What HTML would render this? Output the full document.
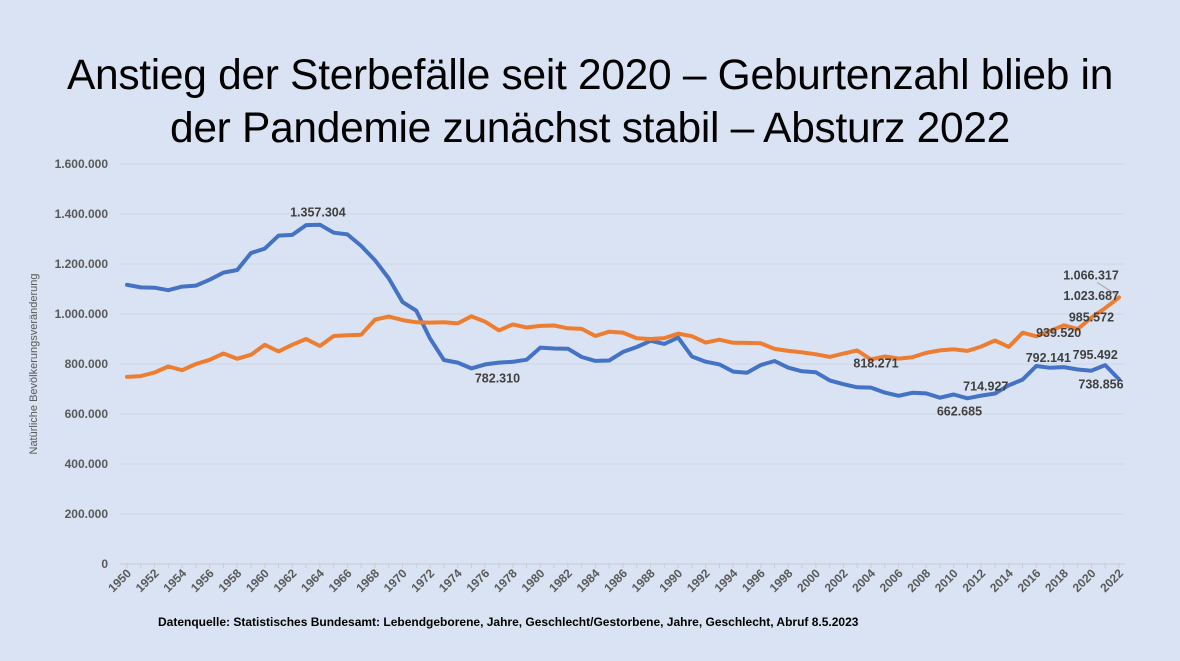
<!DOCTYPE html>
<html><head><meta charset="utf-8"><style>
html,body{margin:0;padding:0;background:#dae3f3;}
#wrap{position:relative;width:1180px;height:661px;overflow:hidden;background:#dae3f3;font-family:"Liberation Sans",sans-serif;}
#title{position:absolute;left:0;top:49px;width:1180px;text-align:center;font-size:42.5px;line-height:53px;color:#000;letter-spacing:-0.3px;}
#src{position:absolute;left:158px;top:615px;font-size:12px;font-weight:bold;color:#000;}
svg{position:absolute;left:0;top:0;}
</style></head><body>
<div id="wrap">
<div id="title">Anstieg der Sterbefälle seit 2020 – Geburtenzahl blieb in<br>der Pandemie zunächst stabil – Absturz 2022</div>
<svg id="chart" width="1180" height="661"></svg>
<div id="src">Datenquelle: Statistisches Bundesamt: Lebendgeborene, Jahre, Geschlecht/Gestorbene, Jahre, Geschlecht, Abruf 8.5.2023</div>
</div>
<script>
const years=[];for(let y=1950;y<=2022;y++)years.push(y);
const births=[1116701,1106380,1105084,1095029,1109743,1113408,1137169,1165555,1175870,1243922,1261614,1313505,1316534,1355595,1357304,1325386,1318303,1272276,1214968,1142366,1047737,1013396,901657,815969,805500,782310,798334,805496,808619,817217,865789,862100,861275,827933,812292,813803,848232,867969,892993,880459,905675,830019,809114,798447,769603,765221,796013,812173,785034,770744,766999,734475,719250,706721,705622,685795,672724,684862,682514,665126,677947,662685,673544,682069,714927,737575,792141,784901,787523,778090,773144,795492,738856];
const deaths=[748329,751767,765976,790032,775035,800036,816616,842051,820991,837293,876721,850361,877212,900188,871880,911949,914802,917324,977739,989652,975664,966623,965689,967240,962240,990734,969060,934245,958400,945939,952371,954145,942780,940325,911926,929015,925426,902948,900022,903733,921445,911245,885443,897270,884661,884588,882843,860389,852382,846330,838797,828541,841686,853946,818271,830227,821627,827155,844439,854544,858768,852328,869582,893825,868356,925200,910899,932272,954874,939520,985572,1023687,1066317];
const yTicks=[0,200000,400000,600000,800000,1000000,1200000,1400000,1600000];
const yTickLabels=["0","200.000","400.000","600.000","800.000","1.000.000","1.200.000","1.400.000","1.600.000"];
// annotations: [series, year, text, dx, dy]
const annotations=[["b",1964,"1.357.304",-2,-8],["b",1975,"782.310",26,14],["d",2004,"818.271",5,8],["b",2011,"662.685",-8,17],["b",2014,"714.927",-23,5],["b",2016,"792.141",12,-4],["d",2019,"939.520",-19,8],["d",2020,"985.572",0,4],["d",2021,"1.023.687",-14,-8],["d",2022,"1.066.317",-28,-18],["b",2021,"795.492",-10,-6],["b",2022,"738.856",-18,9]];
const NS="http://www.w3.org/2000/svg",svg=document.getElementById('chart');
const X0=127,X1=1119,Y0=564,Y1=164;
const xs=y=>X0+(y-1950)*(X1-X0)/72;
const ys=v=>Y0-v*(Y0-Y1)/1600000;
function el(t,a,p){const e=document.createElementNS(NS,t);for(const k in a)e.setAttribute(k,a[k]);(p||svg).appendChild(e);return e;}
yTicks.forEach((v,i)=>{
 if(v>0){const g=el('line',{x1:120,x2:1125,y1:ys(v),y2:ys(v),stroke:'#d0d6e0','stroke-width':1});
 
 }
 const t=el('text',{x:108,y:ys(v)+4,'text-anchor':'end','font-size':12,'font-weight':'bold',fill:'#595959','font-family':'Liberation Sans, sans-serif'});
 t.textContent=yTickLabels[i];
 
 
});
const ax=el('line',{x1:120,x2:1125,y1:Y0,y2:Y0,stroke:'#c8ccd4','stroke-width':1});


years.forEach(y=>{
 const tk=el('line',{x1:xs(y),x2:xs(y),y1:Y0,y2:Y0+4,stroke:'#c8ccd4'});
 
 
 if(y%2===0){const x=xs(y)+5,yy=574;
  const t=el('text',{x:x,y:yy,'text-anchor':'end','font-size':12,'font-weight':'bold',fill:'#595959','font-family':'Liberation Sans, sans-serif',transform:`rotate(-45 ${x} ${yy})`});
  t.textContent=y;
  
  }
});
const at=el('text',{x:37,y:364,'text-anchor':'middle','font-size':11,fill:'#595959','font-family':'Liberation Sans, sans-serif',transform:'rotate(-90 37 364)'});
at.textContent='Natürliche Bevölkerungsveränderung';


function line(data,color,name){
 const d=data.map((v,i)=>(i?'L':'M')+xs(years[i]).toFixed(1)+','+ys(v).toFixed(1)).join('');
 const p=el('path',{d:d,fill:'none',stroke:color,'stroke-width':4,'stroke-linejoin':'round','stroke-linecap':'round'});
 
 
}
line(births,'#4472c4','births-line');
line(deaths,'#ed7d31','deaths-line');
const ld=el('line',{x1:xs(2022)-22,y1:ys(1066317)-15,x2:xs(2022)-3,y2:ys(1066317)-3,stroke:'#a6a6a6','stroke-width':1});


annotations.forEach(a=>{
 const arr=a[0]==='b'?births:deaths,i=a[1]-1950;
 const t=el('text',{x:xs(a[1])+a[3],y:ys(arr[i])+a[4],'text-anchor':'middle','font-size':12.5,'font-weight':'bold',fill:'#404040','font-family':'Liberation Sans, sans-serif'});
 t.textContent=a[2];
 
 
});
</script>
</body></html>
